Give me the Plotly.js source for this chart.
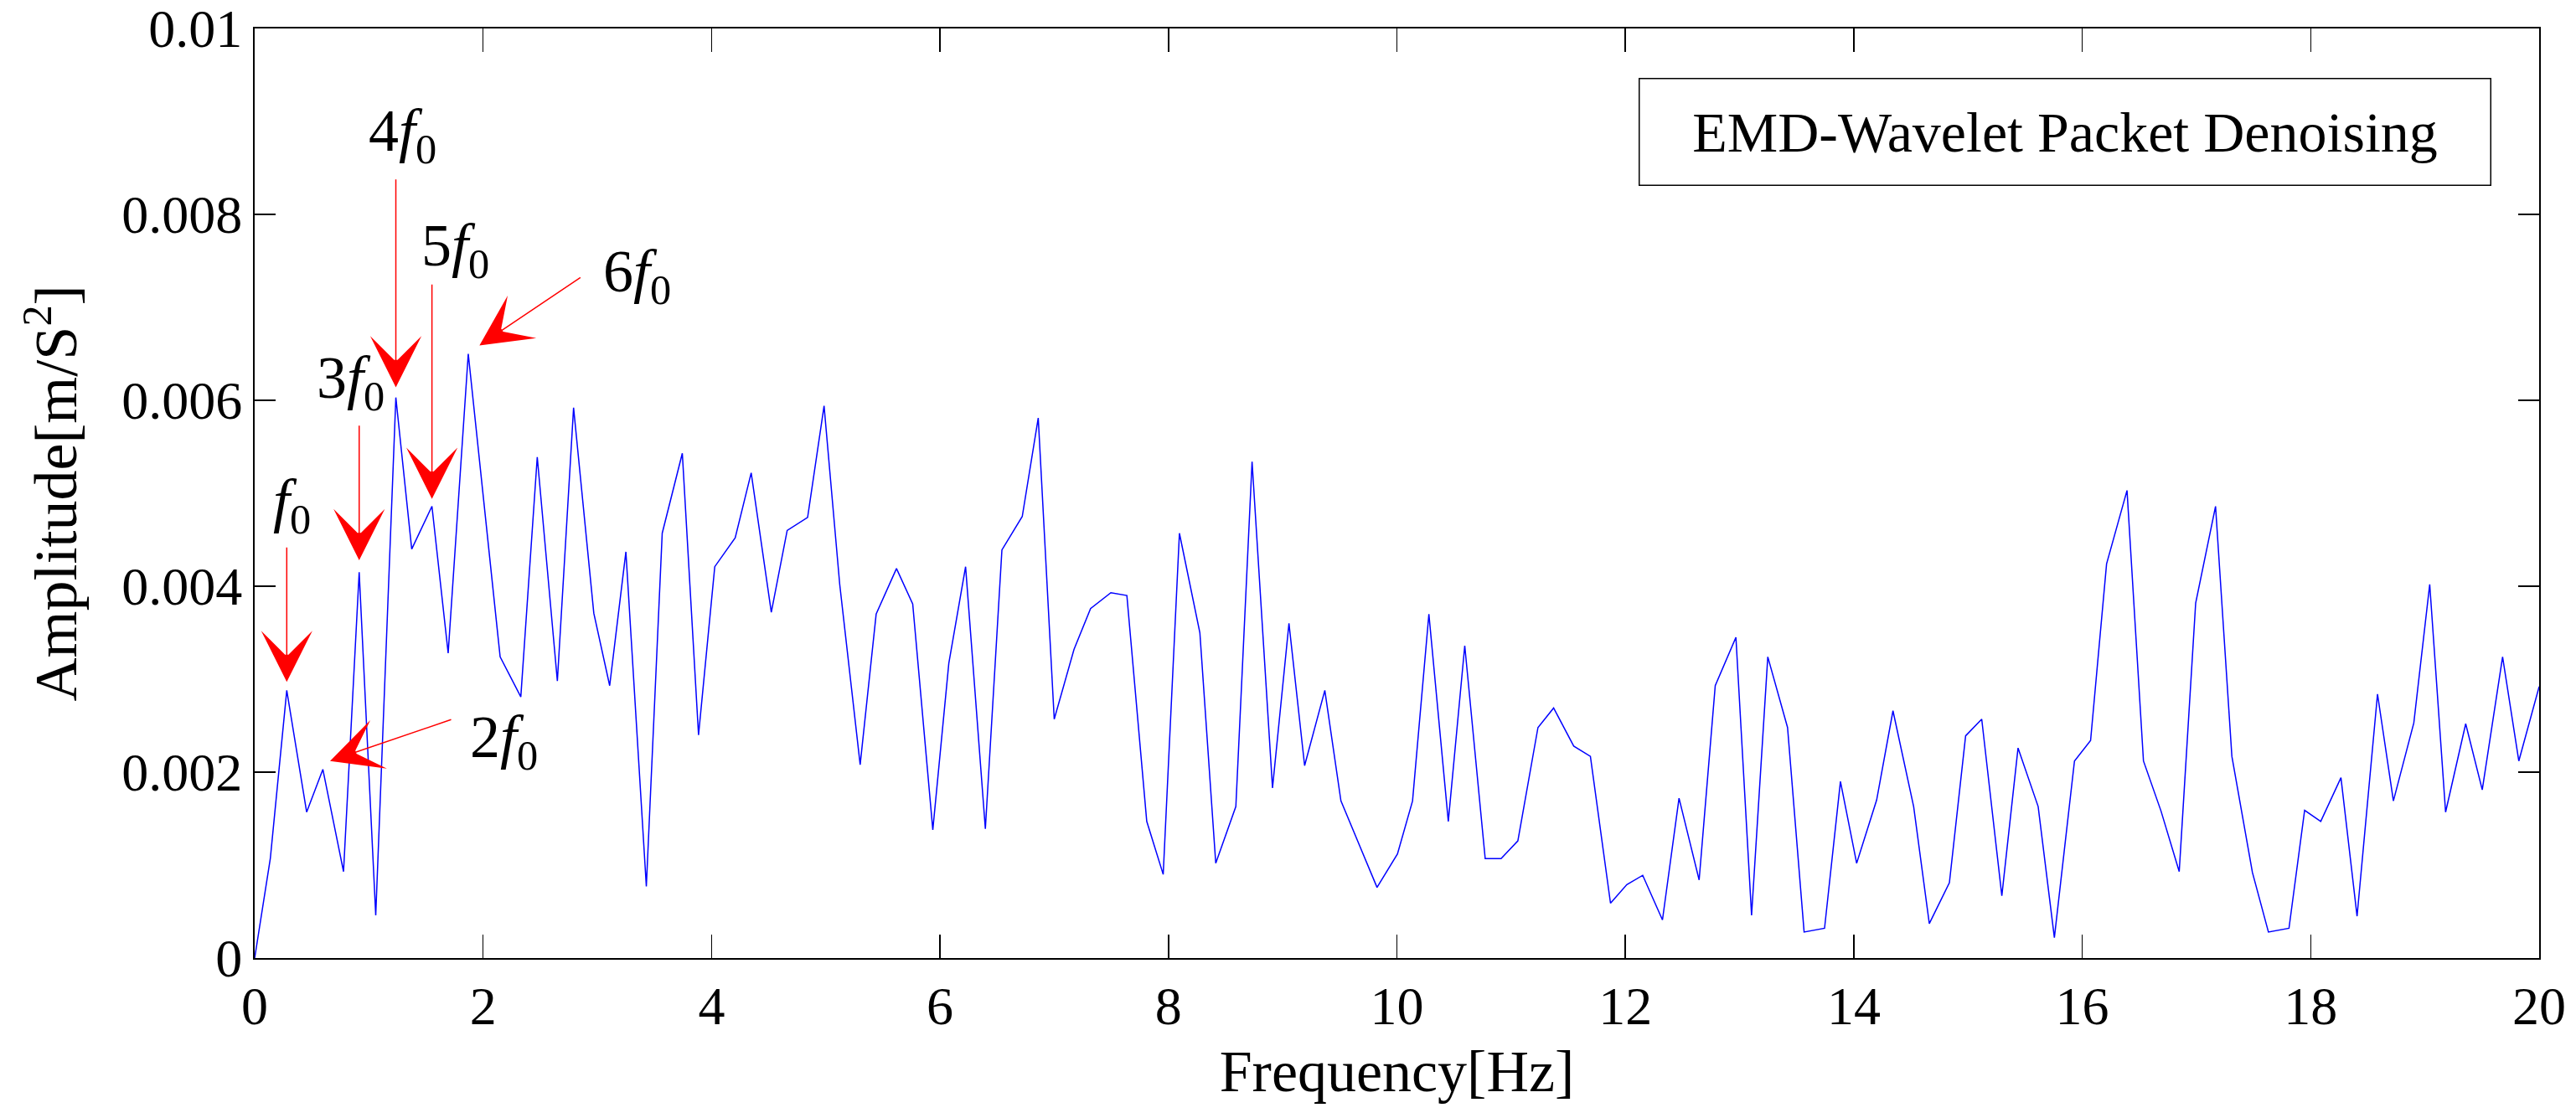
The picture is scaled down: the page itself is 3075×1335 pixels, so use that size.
<!DOCTYPE html>
<html>
<head>
<meta charset="utf-8">
<script src="https://cdn.plot.ly/plotly-3.0.1.min.js"></script>
<style>
html,body{margin:0;padding:0;background:#fff;}
#chart{width:3075px;height:1335px;}
</style>
</head>
<body>
<div id="chart"></div>
<script>
// Frequency [Hz]
const freq = [0, 0.137, 0.281, 0.455, 0.597, 0.778, 0.915, 1.06, 1.236, 1.375, 1.552, 1.694, 1.870, 2.149, 2.33, 2.474, 2.65, 2.792, 2.969, 3.108, 3.25, 3.429, 3.568, 3.744, 3.886, 4.028, 4.207, 4.347, 4.523, 4.662, 4.841, 4.985, 5.122, 5.301, 5.441, 5.619, 5.761, 5.937, 6.077, 6.224, 6.397, 6.542, 6.72, 6.86, 7.0, 7.173, 7.318, 7.496, 7.636, 7.81, 7.954, 8.096, 8.275, 8.414, 8.59, 8.732, 8.911, 9.055, 9.192, 9.369, 9.51, 9.826, 10.005, 10.137, 10.28, 10.45, 10.594, 10.773, 10.912, 11.059, 11.235, 11.372, 11.548, 11.694, 11.87, 12.013, 12.152, 12.325, 12.47, 12.646, 12.787, 12.968, 13.105, 13.247, 13.42, 13.565, 13.744, 13.883, 14.025, 14.2, 14.343, 14.524, 14.661, 14.837, 14.979, 15.12, 15.296, 15.438, 15.614, 15.756, 15.932, 16.073, 16.213, 16.392, 16.536, 16.69, 16.849, 16.993, 17.167, 17.31, 17.49, 17.63, 17.81, 17.947, 18.088, 18.265, 18.406, 18.585, 18.724, 18.903, 19.042, 19.181, 19.357, 19.502, 19.68, 19.822, 20.0, 20.15];
// Amplitude [m/s^2]
const amp = [0, 0.00107, 0.00288, 0.00157, 0.00203, 0.00093, 0.00415, 0.00046, 0.00603, 0.00440, 0.00486, 0.00328, 0.00650, 0.00324, 0.00281, 0.00539, 0.00298, 0.00592, 0.00371, 0.00293, 0.00437, 0.00077, 0.00457, 0.00543, 0.00240, 0.00421, 0.00452, 0.00522, 0.00372, 0.00460, 0.00474, 0.00594, 0.00402, 0.00208, 0.00370, 0.00419, 0.00381, 0.00138, 0.00317, 0.00421, 0.00139, 0.00439, 0.00475, 0.00581, 0.00257, 0.00332, 0.00376, 0.00393, 0.00390, 0.00147, 0.00090, 0.00457, 0.00350, 0.00102, 0.00163, 0.00534, 0.00183, 0.00360, 0.00207, 0.00288, 0.00169, 0.00076, 0.00112, 0.00169, 0.00370, 0.00147, 0.00336, 0.00107, 0.00107, 0.00126, 0.00248, 0.00269, 0.00228, 0.00217, 0.00059, 0.00079, 0.00089, 0.00041, 0.00172, 0.00084, 0.00293, 0.00345, 0.00046, 0.00324, 0.00248, 0.00028, 0.00032, 0.00190, 0.00102, 0.00170, 0.00266, 0.00163, 0.00037, 0.00081, 0.00239, 0.00257, 0.00067, 0.00226, 0.00163, 0.00022, 0.00212, 0.00234, 0.00424, 0.00503, 0.00212, 0.00158, 0.00093, 0.00382, 0.00486, 0.00217, 0.00092, 0.00028, 0.00032, 0.00159, 0.00147, 0.00194, 0.00045, 0.00284, 0.00169, 0.00253, 0.00402, 0.00157, 0.00252, 0.00181, 0.00324, 0.00212, 0.00292, 0.00250];

const xTickVals = [0, 2, 4, 6, 8, 10, 12, 14, 16, 18, 20];
const xTickText = ['0', '2', '4', '6', '8', '10', '12', '14', '16', '18', '20'];
const yTickVals = [0, 0.002, 0.004, 0.006, 0.008, 0.01];
const yTickText = ['0', '0.002', '0.004', '0.006', '0.008', '0.01'];

// Harmonic labels and arrows
const harmLabels = ['<i>f</i><sub>0</sub>', '2<i>f</i><sub>0</sub>', '3<i>f</i><sub>0</sub>', '4<i>f</i><sub>0</sub>', '5<i>f</i><sub>0</sub>', '6<i>f</i><sub>0</sub>'];
const labelX = [0.325, 2.181, 0.839, 1.295, 1.756, 3.349];
const labelY = [0.00487, 0.00233, 0.0062, 0.00886, 0.00762, 0.00734];
const arrowTipX = [0.281, 0.66, 0.915, 1.236, 1.552, 1.968];
const arrowTipY = [0.00297, 0.00212, 0.00428, 0.00614, 0.00494, 0.00659];
const arrowTailX = [0.281, 1.731, 0.915, 1.236, 1.552, 2.863];
const arrowTailY = [0.00443, 0.00257, 0.00574, 0.00839, 0.00726, 0.00733];

const legendText = 'EMD-Wavelet Packet Denoising';

const FONT = 'Liberation Serif, Times New Roman, serif';

const annotations = [];
for (let i = 0; i < harmLabels.length; i++) {
  annotations.push({
    x: arrowTipX[i], y: arrowTipY[i], xref: 'x', yref: 'y',
    ax: arrowTailX[i], ay: arrowTailY[i], axref: 'x', ayref: 'y',
    text: '', showarrow: true, arrowhead: 3, arrowsize: 6.8, arrowwidth: 1.5,
    arrowcolor: '#ff0000', standoff: 0, startstandoff: 0
  });
  annotations.push({
    x: labelX[i], y: labelY[i], xref: 'x', yref: 'y',
    text: harmLabels[i], showarrow: false, xanchor: 'center', yanchor: 'middle',
    font: {family: FONT, size: 72, color: '#000'}
  });
}
annotations.push({
  x: 0.7923, y: 0.8883, xref: 'paper', yref: 'paper',
  xanchor: 'center', yanchor: 'middle',
  text: legendText, showarrow: false,
  width: 1013, height: 124, borderpad: 1,
  bordercolor: '#000', borderwidth: 1.5, bgcolor: '#fff',
  font: {family: FONT, size: 68, color: '#000'}
});

const trace = {
  x: freq, y: amp, type: 'scatter', mode: 'lines',
  line: {color: '#0000ff', width: 1.5},
  hoverinfo: 'skip'
};

const layout = {
  width: 3075, height: 1335,
  margin: {l: 304, r: 44, t: 34, b: 191},
  paper_bgcolor: '#fff', plot_bgcolor: '#fff',
  showlegend: false,
  xaxis: {
    range: [0, 20], tickvals: xTickVals, ticktext: xTickText,
    ticks: 'inside', ticklen: 28, tickwidth: 1.5, tickcolor: '#000',
    showline: true, linecolor: '#000', linewidth: 2, mirror: 'ticks',
    showgrid: false, zeroline: false, ticklabeloverflow: 'allow',
    tickfont: {family: FONT, size: 64, color: '#000'},
    title: {text: 'Frequency[Hz]', font: {family: FONT, size: 70, color: '#000'}, standoff: 18},
    automargin: false
  },
  yaxis: {
    range: [0, 0.01], tickvals: yTickVals, ticktext: yTickText,
    ticks: 'inside', ticklen: 25, tickwidth: 1.5, tickcolor: '#000',
    showline: true, linecolor: '#000', linewidth: 2, mirror: 'ticks',
    showgrid: false, zeroline: false, ticklabeloverflow: 'allow',
    tickfont: {family: FONT, size: 64, color: '#000'},
    title: {text: 'Amplitude[m/S<sup>2</sup>]', font: {family: FONT, size: 72, color: '#000'}, standoff: 30},
    automargin: false
  },
  annotations: annotations
};

Plotly.newPlot('chart', [trace], layout, {displayModeBar: false, staticPlot: true});
</script>
</body>
</html>
